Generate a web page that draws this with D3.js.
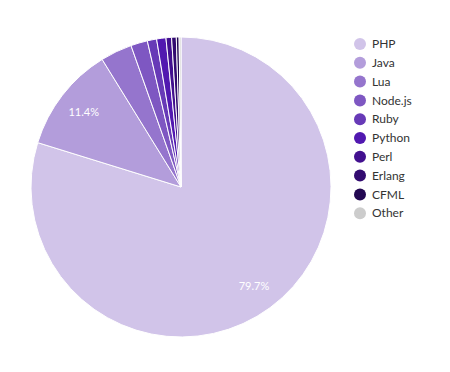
<!DOCTYPE html>
<html>
<head>
<meta charset="utf-8">
<script src="https://cdn.jsdelivr.net/npm/d3@7"></script>
<style>
  body { margin: 0; background: #fff; }
  text { font-family: Lato, "Open Sans", sans-serif; }
</style>
</head>
<body>
<div id="chart"></div>
<script>
const languages = ["PHP", "Java", "Lua", "Node.js", "Ruby", "Python", "Perl", "Erlang", "CFML", "Other"]
const shares = [79.7, 11.4, 3.4, 1.8, 1.0, 1.0, 0.6, 0.5, 0.3, 0.2]
const colors = ["#d1c4e9", "#b39ddb", "#9575cd", "#7e57c2", "#673ab7", "#5118b0", "#42108f", "#320b70", "#230852", "#cccccc"]

const width = 450, height = 372
const cx = 181, cy = 187, radius = 150

const svg = d3.select('#chart')
    .append('svg')
    .attr('width', width)
    .attr('height', height)

const data = languages.map((name, i) => ({ name, value: shares[i] }))

const color = d3.scaleOrdinal()
    .domain(languages)
    .range(colors)

const pie = d3.pie()
    .sort(null)
    .value(d => d.value)

const arc = d3.arc().innerRadius(0).outerRadius(radius)
const labelArc = d3.arc().innerRadius(123).outerRadius(123)

const g = svg.append('g')
    .attr('transform', `translate(${cx}, ${cy})`)

const arcs = pie(data)

g.selectAll('path')
    .data(arcs)
    .enter()
    .append('path')
    .attr('d', arc)
    .attr('fill', d => color(d.data.name))
    .attr('stroke', '#fff')
    .attr('stroke-width', 1)

// only the big slices get a label
g.selectAll('text.label')
    .data(arcs.filter(d => d.data.value > 5))
    .enter()
    .append('text')
    .classed('label', true)
    .attr('transform', d => `translate(${labelArc.centroid(d)})`)
    .attr('text-anchor', 'middle')
    .attr('dy', '0.35em')
    .attr('fill', '#fff')
    .attr('font-size', '11px')
    .text(d => `${d.data.value}%`)

// legend
const legend = svg.selectAll('.legend')
    .data(data)
    .enter()
    .append('g')
    .classed('legend', true)
    .attr('transform', (d, i) => `translate(360, ${44 + i * 18.8})`)

legend.append('circle')
    .attr('r', 6)
    .attr('fill', d => color(d.name))

legend.append('text')
    .attr('x', 12)
    .attr('dy', '0.35em')
    .attr('fill', '#333')
    .attr('font-size', '12px')
    .text(d => d.name)
</script>
</body>
</html>
